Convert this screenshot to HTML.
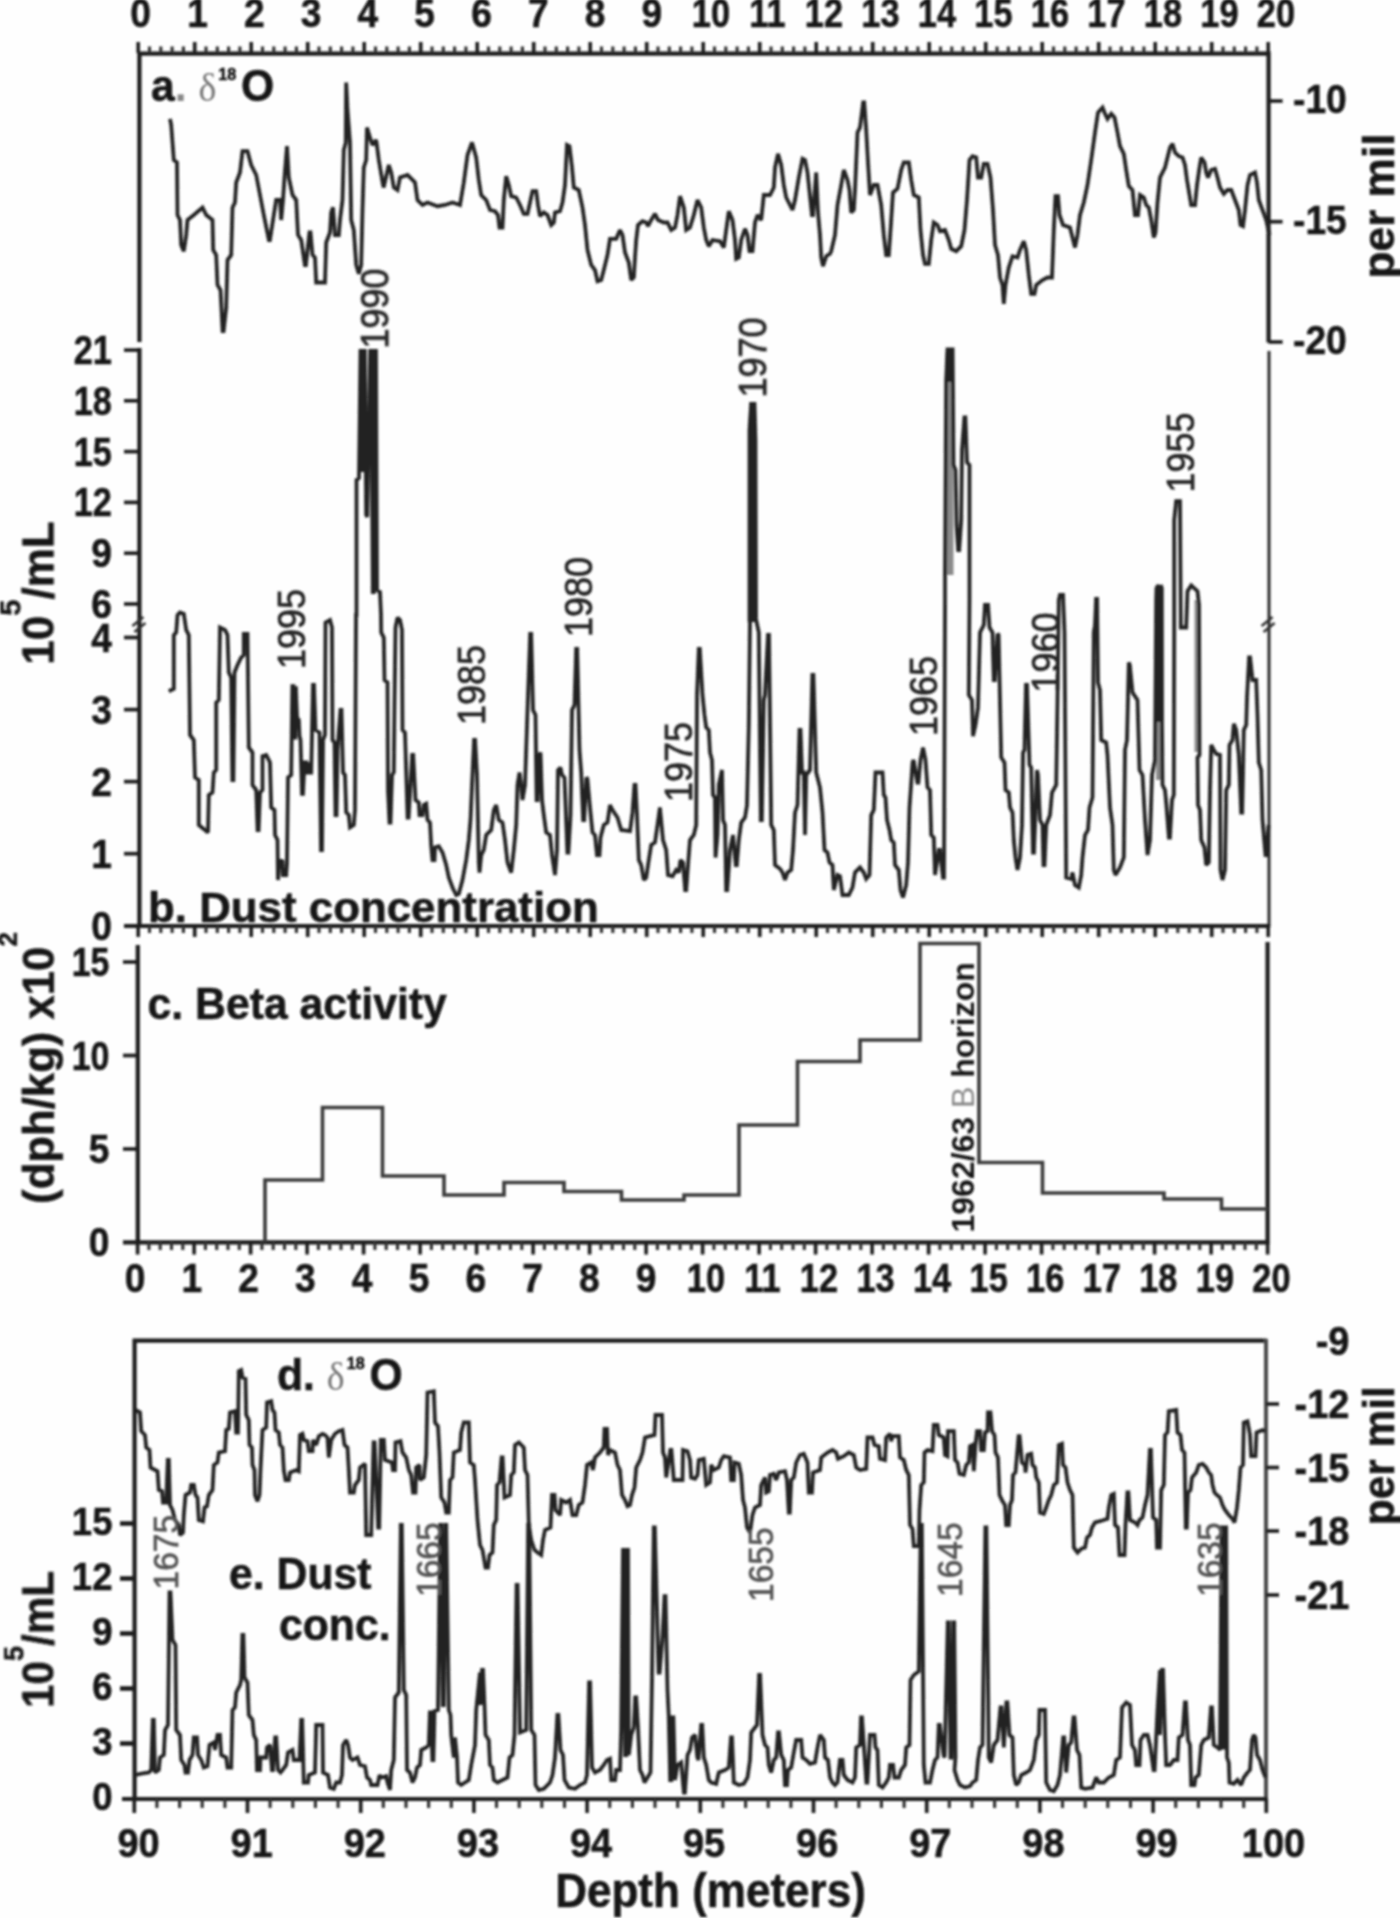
<!DOCTYPE html>
<html lang="en"><head><meta charset="utf-8"><title>Ice core records: δ18O, dust concentration, beta activity</title>
<style>
html,body{margin:0;padding:0;background:#fff;}
body{width:1400px;height:1918px;overflow:hidden;}
svg{display:block;}
text{font-family:"Liberation Sans",Arial,Helvetica,sans-serif;fill:#141414;}
.b{font-weight:bold;}
.tk{font-weight:bold;font-size:40px;stroke:#141414;stroke-width:0.5;}
.ax{stroke:#1a1a1a;stroke-width:4.2;fill:none;stroke-linecap:butt;}
.ax2{stroke:#2a2a2a;stroke-width:3;fill:none;}
.axg{stroke:#4a4a4a;stroke-width:4;fill:none;}
.t{stroke:#1c1c1c;stroke-width:3.6;fill:none;}
.tm{stroke:#333;stroke-width:3.2;fill:none;}
.c{stroke:#222;stroke-width:3.8;fill:none;stroke-linejoin:miter;stroke-miterlimit:2;stroke-linecap:butt;}
.cs{stroke:#3a3a3a;stroke-width:3.6;fill:none;stroke-linejoin:miter;}
.yr{font-size:36px;fill:#262626;stroke:#262626;stroke-width:0.7;}
.yg{font-size:33.5px;fill:#555;stroke:#555;stroke-width:0.7;}
.ttl{font-weight:bold;font-size:41px;stroke:#141414;stroke-width:0.5;}
.lab{font-weight:bold;font-size:39px;stroke:#141414;stroke-width:0.5;}
.gr{font-family:"Liberation Serif","DejaVu Serif",serif;font-weight:normal;fill:#777;stroke:none;}
.g2{fill:#888;stroke:none;}
</style></head><body>
<svg width="1400" height="1918" viewBox="0 0 1400 1918">
<defs><filter id="bl" x="-2%" y="-2%" width="104%" height="104%"><feGaussianBlur stdDeviation="1.1"/></filter></defs>
<rect width="1400" height="1918" fill="#fefefe"/>
<g filter="url(#bl)">
<path class="ax" d="M139.4,342 V53.6 H1268.6 V342.5"/>
<line class="t" x1="138.2" y1="53.0" x2="138.2" y2="42.0"/>
<line class="tm" x1="149.5" y1="53.0" x2="149.5" y2="46.5"/>
<line class="tm" x1="160.8" y1="53.0" x2="160.8" y2="46.5"/>
<line class="tm" x1="172.1" y1="53.0" x2="172.1" y2="46.5"/>
<line class="tm" x1="183.4" y1="53.0" x2="183.4" y2="46.5"/>
<line class="t" x1="194.7" y1="53.0" x2="194.7" y2="42.0"/>
<line class="tm" x1="206.0" y1="53.0" x2="206.0" y2="46.5"/>
<line class="tm" x1="217.3" y1="53.0" x2="217.3" y2="46.5"/>
<line class="tm" x1="228.6" y1="53.0" x2="228.6" y2="46.5"/>
<line class="tm" x1="239.9" y1="53.0" x2="239.9" y2="46.5"/>
<line class="t" x1="251.2" y1="53.0" x2="251.2" y2="42.0"/>
<line class="tm" x1="262.5" y1="53.0" x2="262.5" y2="46.5"/>
<line class="tm" x1="273.8" y1="53.0" x2="273.8" y2="46.5"/>
<line class="tm" x1="285.1" y1="53.0" x2="285.1" y2="46.5"/>
<line class="tm" x1="296.4" y1="53.0" x2="296.4" y2="46.5"/>
<line class="t" x1="307.7" y1="53.0" x2="307.7" y2="42.0"/>
<line class="tm" x1="319.0" y1="53.0" x2="319.0" y2="46.5"/>
<line class="tm" x1="330.3" y1="53.0" x2="330.3" y2="46.5"/>
<line class="tm" x1="341.6" y1="53.0" x2="341.6" y2="46.5"/>
<line class="tm" x1="352.9" y1="53.0" x2="352.9" y2="46.5"/>
<line class="t" x1="364.2" y1="53.0" x2="364.2" y2="42.0"/>
<line class="tm" x1="375.5" y1="53.0" x2="375.5" y2="46.5"/>
<line class="tm" x1="386.8" y1="53.0" x2="386.8" y2="46.5"/>
<line class="tm" x1="398.1" y1="53.0" x2="398.1" y2="46.5"/>
<line class="tm" x1="409.4" y1="53.0" x2="409.4" y2="46.5"/>
<line class="t" x1="420.7" y1="53.0" x2="420.7" y2="42.0"/>
<line class="tm" x1="432.0" y1="53.0" x2="432.0" y2="46.5"/>
<line class="tm" x1="443.3" y1="53.0" x2="443.3" y2="46.5"/>
<line class="tm" x1="454.6" y1="53.0" x2="454.6" y2="46.5"/>
<line class="tm" x1="465.9" y1="53.0" x2="465.9" y2="46.5"/>
<line class="t" x1="477.2" y1="53.0" x2="477.2" y2="42.0"/>
<line class="tm" x1="488.5" y1="53.0" x2="488.5" y2="46.5"/>
<line class="tm" x1="499.8" y1="53.0" x2="499.8" y2="46.5"/>
<line class="tm" x1="511.1" y1="53.0" x2="511.1" y2="46.5"/>
<line class="tm" x1="522.4" y1="53.0" x2="522.4" y2="46.5"/>
<line class="t" x1="533.7" y1="53.0" x2="533.7" y2="42.0"/>
<line class="tm" x1="545.0" y1="53.0" x2="545.0" y2="46.5"/>
<line class="tm" x1="556.3" y1="53.0" x2="556.3" y2="46.5"/>
<line class="tm" x1="567.6" y1="53.0" x2="567.6" y2="46.5"/>
<line class="tm" x1="578.9" y1="53.0" x2="578.9" y2="46.5"/>
<line class="t" x1="590.2" y1="53.0" x2="590.2" y2="42.0"/>
<line class="tm" x1="601.5" y1="53.0" x2="601.5" y2="46.5"/>
<line class="tm" x1="612.8" y1="53.0" x2="612.8" y2="46.5"/>
<line class="tm" x1="624.1" y1="53.0" x2="624.1" y2="46.5"/>
<line class="tm" x1="635.4" y1="53.0" x2="635.4" y2="46.5"/>
<line class="t" x1="646.7" y1="53.0" x2="646.7" y2="42.0"/>
<line class="tm" x1="658.0" y1="53.0" x2="658.0" y2="46.5"/>
<line class="tm" x1="669.3" y1="53.0" x2="669.3" y2="46.5"/>
<line class="tm" x1="680.6" y1="53.0" x2="680.6" y2="46.5"/>
<line class="tm" x1="691.9" y1="53.0" x2="691.9" y2="46.5"/>
<line class="t" x1="703.2" y1="53.0" x2="703.2" y2="42.0"/>
<line class="tm" x1="714.5" y1="53.0" x2="714.5" y2="46.5"/>
<line class="tm" x1="725.8" y1="53.0" x2="725.8" y2="46.5"/>
<line class="tm" x1="737.1" y1="53.0" x2="737.1" y2="46.5"/>
<line class="tm" x1="748.4" y1="53.0" x2="748.4" y2="46.5"/>
<line class="t" x1="759.7" y1="53.0" x2="759.7" y2="42.0"/>
<line class="tm" x1="771.0" y1="53.0" x2="771.0" y2="46.5"/>
<line class="tm" x1="782.3" y1="53.0" x2="782.3" y2="46.5"/>
<line class="tm" x1="793.6" y1="53.0" x2="793.6" y2="46.5"/>
<line class="tm" x1="804.9" y1="53.0" x2="804.9" y2="46.5"/>
<line class="t" x1="816.2" y1="53.0" x2="816.2" y2="42.0"/>
<line class="tm" x1="827.5" y1="53.0" x2="827.5" y2="46.5"/>
<line class="tm" x1="838.8" y1="53.0" x2="838.8" y2="46.5"/>
<line class="tm" x1="850.1" y1="53.0" x2="850.1" y2="46.5"/>
<line class="tm" x1="861.4" y1="53.0" x2="861.4" y2="46.5"/>
<line class="t" x1="872.7" y1="53.0" x2="872.7" y2="42.0"/>
<line class="tm" x1="884.0" y1="53.0" x2="884.0" y2="46.5"/>
<line class="tm" x1="895.3" y1="53.0" x2="895.3" y2="46.5"/>
<line class="tm" x1="906.6" y1="53.0" x2="906.6" y2="46.5"/>
<line class="tm" x1="917.9" y1="53.0" x2="917.9" y2="46.5"/>
<line class="t" x1="929.2" y1="53.0" x2="929.2" y2="42.0"/>
<line class="tm" x1="940.5" y1="53.0" x2="940.5" y2="46.5"/>
<line class="tm" x1="951.8" y1="53.0" x2="951.8" y2="46.5"/>
<line class="tm" x1="963.1" y1="53.0" x2="963.1" y2="46.5"/>
<line class="tm" x1="974.4" y1="53.0" x2="974.4" y2="46.5"/>
<line class="t" x1="985.7" y1="53.0" x2="985.7" y2="42.0"/>
<line class="tm" x1="997.0" y1="53.0" x2="997.0" y2="46.5"/>
<line class="tm" x1="1008.3" y1="53.0" x2="1008.3" y2="46.5"/>
<line class="tm" x1="1019.6" y1="53.0" x2="1019.6" y2="46.5"/>
<line class="tm" x1="1030.9" y1="53.0" x2="1030.9" y2="46.5"/>
<line class="t" x1="1042.2" y1="53.0" x2="1042.2" y2="42.0"/>
<line class="tm" x1="1053.5" y1="53.0" x2="1053.5" y2="46.5"/>
<line class="tm" x1="1064.8" y1="53.0" x2="1064.8" y2="46.5"/>
<line class="tm" x1="1076.1" y1="53.0" x2="1076.1" y2="46.5"/>
<line class="tm" x1="1087.4" y1="53.0" x2="1087.4" y2="46.5"/>
<line class="t" x1="1098.7" y1="53.0" x2="1098.7" y2="42.0"/>
<line class="tm" x1="1110.0" y1="53.0" x2="1110.0" y2="46.5"/>
<line class="tm" x1="1121.3" y1="53.0" x2="1121.3" y2="46.5"/>
<line class="tm" x1="1132.6" y1="53.0" x2="1132.6" y2="46.5"/>
<line class="tm" x1="1143.9" y1="53.0" x2="1143.9" y2="46.5"/>
<line class="t" x1="1155.2" y1="53.0" x2="1155.2" y2="42.0"/>
<line class="tm" x1="1166.5" y1="53.0" x2="1166.5" y2="46.5"/>
<line class="tm" x1="1177.8" y1="53.0" x2="1177.8" y2="46.5"/>
<line class="tm" x1="1189.1" y1="53.0" x2="1189.1" y2="46.5"/>
<line class="tm" x1="1200.4" y1="53.0" x2="1200.4" y2="46.5"/>
<line class="t" x1="1211.7" y1="53.0" x2="1211.7" y2="42.0"/>
<line class="tm" x1="1223.0" y1="53.0" x2="1223.0" y2="46.5"/>
<line class="tm" x1="1234.3" y1="53.0" x2="1234.3" y2="46.5"/>
<line class="tm" x1="1245.6" y1="53.0" x2="1245.6" y2="46.5"/>
<line class="tm" x1="1256.9" y1="53.0" x2="1256.9" y2="46.5"/>
<line class="t" x1="1268.2" y1="53.0" x2="1268.2" y2="42.0"/>
<text class="tk" transform="translate(140.7,27.0) scale(0.930,1)" text-anchor="middle">0</text>
<text class="tk" transform="translate(197.5,27.0) scale(0.930,1)" text-anchor="middle">1</text>
<text class="tk" transform="translate(254.3,27.0) scale(0.930,1)" text-anchor="middle">2</text>
<text class="tk" transform="translate(311.1,27.0) scale(0.930,1)" text-anchor="middle">3</text>
<text class="tk" transform="translate(367.9,27.0) scale(0.930,1)" text-anchor="middle">4</text>
<text class="tk" transform="translate(424.7,27.0) scale(0.930,1)" text-anchor="middle">5</text>
<text class="tk" transform="translate(481.5,27.0) scale(0.930,1)" text-anchor="middle">6</text>
<text class="tk" transform="translate(538.3,27.0) scale(0.930,1)" text-anchor="middle">7</text>
<text class="tk" transform="translate(595.1,27.0) scale(0.930,1)" text-anchor="middle">8</text>
<text class="tk" transform="translate(651.9,27.0) scale(0.930,1)" text-anchor="middle">9</text>
<text class="tk" transform="translate(711.0,27.0) scale(0.860,1)" text-anchor="middle">10</text>
<text class="tk" transform="translate(767.5,27.0) scale(0.860,1)" text-anchor="middle">11</text>
<text class="tk" transform="translate(824.0,27.0) scale(0.860,1)" text-anchor="middle">12</text>
<text class="tk" transform="translate(880.5,27.0) scale(0.860,1)" text-anchor="middle">13</text>
<text class="tk" transform="translate(937.0,27.0) scale(0.860,1)" text-anchor="middle">14</text>
<text class="tk" transform="translate(993.5,27.0) scale(0.860,1)" text-anchor="middle">15</text>
<text class="tk" transform="translate(1050.0,27.0) scale(0.860,1)" text-anchor="middle">16</text>
<text class="tk" transform="translate(1106.5,27.0) scale(0.860,1)" text-anchor="middle">17</text>
<text class="tk" transform="translate(1163.0,27.0) scale(0.860,1)" text-anchor="middle">18</text>
<text class="tk" transform="translate(1219.5,27.0) scale(0.860,1)" text-anchor="middle">19</text>
<text class="tk" transform="translate(1276.0,27.0) scale(0.860,1)" text-anchor="middle">20</text>
<line class="t" x1="1268.6" y1="101.0" x2="1282.6" y2="101.0"/>
<text class="tk" transform="translate(1293.0,113.0) scale(0.930,1)" text-anchor="start">-10</text>
<line class="t" x1="1268.6" y1="221.7" x2="1282.6" y2="221.7"/>
<text class="tk" transform="translate(1293.0,233.7) scale(0.930,1)" text-anchor="start">-15</text>
<line class="t" x1="1268.6" y1="342.0" x2="1282.6" y2="342.0"/>
<text class="tk" transform="translate(1293.0,354.0) scale(0.930,1)" text-anchor="start">-20</text>
<text class="ttl" transform="translate(1393.5,206.0) scale(1.010,1) rotate(-90)" text-anchor="middle" style="font-size:44.2px">per mil</text>
<text class="lab" transform="translate(151.0,101.0) scale(0.950,1)" text-anchor="start" style="font-size:45px">a<tspan class="g2">.</tspan> <tspan class="gr" font-size="40">δ</tspan><tspan font-size="17" dy="-21" dx="2">18</tspan><tspan dy="21" dx="5">O</tspan></text>
<polyline class="c" points="170.0,118.8 171.2,125.0 173.8,160.0 177.0,162.5 177.5,215.0 180.0,220.0 181.2,245.0 183.8,251.2 186.2,235.0 187.5,220.0 193.8,215.0 202.5,207.5 206.2,215.0 212.5,220.0 213.2,250.0 216.2,255.0 217.5,285.0 220.5,290.0 222.6,331.2 223.6,331.2 226.2,307.5 227.5,260.0 231.2,255.0 232.5,207.5 235.0,202.5 236.2,182.5 240.0,172.5 242.5,151.2 247.5,151.2 251.2,165.0 256.2,175.0 260.0,195.0 263.8,215.0 268.9,240.0 269.9,240.0 273.8,215.0 276.2,200.0 280.0,200.0 281.2,220.0 283.0,200.0 284.5,177.5 287.0,146.2 288.8,177.5 292.5,195.0 296.2,200.0 298.0,235.0 301.2,240.0 304.9,265.0 305.9,265.0 309.5,232.5 310.5,232.5 312.5,255.0 315.0,257.5 316.2,282.5 325.0,282.5 326.2,242.5 330.0,232.5 331.2,212.5 333.0,207.5 335.0,235.0 338.8,235.0 340.0,220.0 342.5,200.0 343.8,150.0 345.8,142.5 346.2,82.5 347.5,110.0 350.0,142.5 351.2,220.0 353.8,230.0 356.2,265.0 358.8,273.8 361.2,265.0 362.5,210.0 363.8,167.5 366.2,160.0 367.0,127.5 370.0,137.5 372.5,145.0 376.2,140.0 378.8,160.0 382.6,182.5 383.6,187.5 388.8,165.0 391.2,172.5 393.8,187.5 397.5,190.0 400.0,177.5 407.5,175.0 415.0,182.5 417.5,200.0 422.5,205.0 427.5,202.5 437.5,206.2 445.0,205.0 452.5,202.5 460.0,205.0 463.8,182.5 467.5,155.0 472.0,142.5 476.2,157.5 478.8,180.0 481.2,195.0 486.2,200.0 490.0,210.0 495.0,211.2 498.0,215.0 499.5,227.5 502.5,227.5 503.8,200.0 506.2,176.2 508.8,185.0 511.2,196.2 516.2,197.5 520.0,205.0 523.8,213.8 527.5,213.8 530.0,202.5 532.5,191.2 536.2,191.2 538.0,205.0 540.0,216.2 543.8,212.5 547.5,215.0 551.2,225.0 553.8,222.5 555.0,212.5 560.0,211.2 562.5,202.5 565.0,185.0 567.0,145.0 569.5,146.2 572.0,167.5 573.8,187.5 578.8,190.0 582.5,207.5 585.0,225.0 587.5,250.0 591.2,265.0 595.0,270.0 597.5,281.2 601.2,280.0 603.8,270.0 607.5,255.0 610.0,238.8 616.2,238.8 620.0,230.0 622.5,235.0 625.0,252.5 628.8,262.5 631.2,280.0 633.8,277.5 635.0,257.5 636.2,240.0 638.0,225.0 642.5,221.2 646.2,222.5 648.0,226.2 651.2,220.0 655.0,213.8 658.0,220.0 663.8,222.5 667.5,222.5 671.2,230.0 675.0,227.5 677.5,215.0 680.0,196.2 683.8,207.5 686.2,230.0 690.0,227.5 693.8,215.0 697.5,200.0 701.2,207.5 703.8,227.5 706.2,240.0 708.8,246.2 712.5,240.0 720.0,241.2 723.8,247.5 726.2,230.0 728.8,211.2 732.5,220.0 735.0,240.0 736.2,258.8 738.8,257.5 741.2,240.0 745.0,228.8 747.5,235.0 749.5,251.2 752.5,251.2 755.0,222.5 757.5,215.0 761.2,220.0 763.8,195.0 770.0,195.0 773.8,187.5 775.0,167.5 778.0,153.8 781.2,165.0 783.8,185.0 786.2,197.5 790.0,205.0 792.5,210.0 795.0,200.0 798.8,177.5 802.5,158.8 805.0,160.0 807.5,172.5 812.0,215.0 813.0,215.0 816.2,172.5 818.0,212.5 820.0,235.0 821.2,257.5 823.0,266.2 826.2,256.2 830.0,253.8 831.2,251.2 835.0,235.0 837.5,205.0 841.2,185.0 843.8,170.0 847.5,180.0 849.5,190.0 851.2,212.5 853.8,210.0 855.0,190.0 857.5,132.5 860.0,127.5 863.2,102.5 864.2,102.5 866.2,130.0 868.0,162.5 870.0,195.0 873.8,185.0 877.5,185.0 881.2,205.0 883.8,235.0 886.2,255.0 888.8,255.0 891.2,220.0 893.0,192.5 897.5,188.8 901.2,170.0 903.8,162.5 908.8,162.5 911.2,180.0 913.8,195.0 918.8,197.5 920.5,230.0 923.0,255.0 925.0,263.8 928.8,263.8 931.2,240.0 933.8,222.5 937.5,225.0 940.0,231.2 945.0,230.0 948.8,240.0 951.2,248.8 956.2,251.2 961.2,246.2 964.5,230.0 967.0,200.0 969.5,160.0 972.5,156.2 976.2,157.5 978.0,177.5 981.2,177.5 983.8,163.8 987.5,163.8 990.5,177.5 993.0,210.0 995.0,245.0 998.0,255.0 1000.0,277.5 1002.5,285.0 1003.8,303.8 1005.5,285.0 1008.8,267.5 1012.5,256.2 1017.5,257.5 1020.0,250.0 1023.8,241.2 1026.2,250.0 1028.8,275.0 1031.2,293.8 1034.5,293.8 1036.2,285.0 1042.5,280.0 1047.5,277.5 1052.0,277.5 1053.8,230.0 1055.5,196.2 1058.0,196.2 1059.5,215.0 1063.0,225.0 1070.0,227.5 1072.5,237.5 1075.0,247.5 1077.5,235.0 1080.0,215.0 1083.8,202.5 1087.5,185.0 1091.2,160.0 1095.0,132.5 1098.0,112.5 1102.5,107.5 1105.0,113.8 1107.5,118.8 1111.2,113.8 1114.5,117.5 1117.5,132.5 1120.0,146.2 1123.8,153.8 1126.2,170.0 1128.8,186.2 1132.5,190.0 1135.0,215.0 1138.0,215.0 1140.0,195.0 1143.8,197.5 1146.2,205.0 1148.8,207.5 1151.2,220.0 1153.8,237.5 1155.5,232.5 1157.5,202.5 1160.0,177.5 1165.0,167.5 1170.0,147.5 1172.5,143.8 1175.0,152.5 1178.8,156.2 1182.5,157.5 1185.0,165.0 1187.0,180.0 1189.5,195.0 1191.2,205.0 1195.0,205.0 1197.0,185.0 1199.5,167.5 1201.2,157.5 1204.5,162.5 1206.2,172.5 1208.0,177.5 1211.2,170.0 1215.0,168.8 1217.5,177.5 1220.0,187.5 1223.8,193.8 1227.5,190.0 1231.2,190.0 1235.0,200.0 1238.8,210.0 1240.5,225.0 1243.0,226.2 1245.0,210.0 1247.5,185.0 1250.0,175.0 1255.0,172.5 1257.0,182.5 1258.8,200.0 1262.5,210.0 1266.2,220.0 1269.5,235.0"/>
<line class="ax" x1="139.4" y1="348.0" x2="139.4" y2="927.5"/>
<line class="ax2" x1="1269.0" y1="351.0" x2="1269.0" y2="927.0"/>
<line class="ax" x1="124.0" y1="926.0" x2="1270.1" y2="926.0"/>
<text class="tk" transform="translate(112.0,939.7) scale(0.930,1)" text-anchor="end">0</text>
<line class="t" x1="124.0" y1="853.7" x2="139.4" y2="853.7"/>
<text class="tk" transform="translate(112.0,867.7) scale(0.930,1)" text-anchor="end">1</text>
<line class="t" x1="124.0" y1="781.6" x2="139.4" y2="781.6"/>
<text class="tk" transform="translate(112.0,795.6) scale(0.930,1)" text-anchor="end">2</text>
<line class="t" x1="124.0" y1="709.6" x2="139.4" y2="709.6"/>
<text class="tk" transform="translate(112.0,723.6) scale(0.930,1)" text-anchor="end">3</text>
<line class="t" x1="124.0" y1="637.5" x2="139.4" y2="637.5"/>
<text class="tk" transform="translate(112.0,651.5) scale(0.930,1)" text-anchor="end">4</text>
<line class="t" x1="124.0" y1="604.0" x2="139.4" y2="604.0"/>
<text class="tk" transform="translate(112.0,618.0) scale(0.930,1)" text-anchor="end">6</text>
<line class="t" x1="124.0" y1="553.2" x2="139.4" y2="553.2"/>
<text class="tk" transform="translate(112.0,567.2) scale(0.930,1)" text-anchor="end">9</text>
<line class="t" x1="124.0" y1="502.4" x2="139.4" y2="502.4"/>
<text class="tk" transform="translate(112.0,516.4) scale(0.860,1)" text-anchor="end">12</text>
<line class="t" x1="124.0" y1="451.6" x2="139.4" y2="451.6"/>
<text class="tk" transform="translate(112.0,465.6) scale(0.860,1)" text-anchor="end">15</text>
<line class="t" x1="124.0" y1="400.8" x2="139.4" y2="400.8"/>
<text class="tk" transform="translate(112.0,414.8) scale(0.860,1)" text-anchor="end">18</text>
<line class="t" x1="124.0" y1="350.1" x2="139.4" y2="350.1"/>
<text class="tk" transform="translate(112.0,364.1) scale(0.860,1)" text-anchor="end">21</text>
<path class="tm" d="M132.4,626 l11,-9 M134.4,632 l11,-9" style="stroke-width:2.6"/>
<path class="tm" d="M1261.6,626 l11,-9 M1263.6,632 l11,-9" style="stroke-width:2.6"/>
<line class="t" x1="138.2" y1="926.0" x2="138.2" y2="937.0"/>
<line class="tm" x1="149.5" y1="926.0" x2="149.5" y2="933.0"/>
<line class="tm" x1="160.8" y1="926.0" x2="160.8" y2="933.0"/>
<line class="tm" x1="172.1" y1="926.0" x2="172.1" y2="933.0"/>
<line class="tm" x1="183.4" y1="926.0" x2="183.4" y2="933.0"/>
<line class="t" x1="194.7" y1="926.0" x2="194.7" y2="937.0"/>
<line class="tm" x1="206.0" y1="926.0" x2="206.0" y2="933.0"/>
<line class="tm" x1="217.3" y1="926.0" x2="217.3" y2="933.0"/>
<line class="tm" x1="228.6" y1="926.0" x2="228.6" y2="933.0"/>
<line class="tm" x1="239.9" y1="926.0" x2="239.9" y2="933.0"/>
<line class="t" x1="251.2" y1="926.0" x2="251.2" y2="937.0"/>
<line class="tm" x1="262.5" y1="926.0" x2="262.5" y2="933.0"/>
<line class="tm" x1="273.8" y1="926.0" x2="273.8" y2="933.0"/>
<line class="tm" x1="285.1" y1="926.0" x2="285.1" y2="933.0"/>
<line class="tm" x1="296.4" y1="926.0" x2="296.4" y2="933.0"/>
<line class="t" x1="307.7" y1="926.0" x2="307.7" y2="937.0"/>
<line class="tm" x1="319.0" y1="926.0" x2="319.0" y2="933.0"/>
<line class="tm" x1="330.3" y1="926.0" x2="330.3" y2="933.0"/>
<line class="tm" x1="341.6" y1="926.0" x2="341.6" y2="933.0"/>
<line class="tm" x1="352.9" y1="926.0" x2="352.9" y2="933.0"/>
<line class="t" x1="364.2" y1="926.0" x2="364.2" y2="937.0"/>
<line class="tm" x1="375.5" y1="926.0" x2="375.5" y2="933.0"/>
<line class="tm" x1="386.8" y1="926.0" x2="386.8" y2="933.0"/>
<line class="tm" x1="398.1" y1="926.0" x2="398.1" y2="933.0"/>
<line class="tm" x1="409.4" y1="926.0" x2="409.4" y2="933.0"/>
<line class="t" x1="420.7" y1="926.0" x2="420.7" y2="937.0"/>
<line class="tm" x1="432.0" y1="926.0" x2="432.0" y2="933.0"/>
<line class="tm" x1="443.3" y1="926.0" x2="443.3" y2="933.0"/>
<line class="tm" x1="454.6" y1="926.0" x2="454.6" y2="933.0"/>
<line class="tm" x1="465.9" y1="926.0" x2="465.9" y2="933.0"/>
<line class="t" x1="477.2" y1="926.0" x2="477.2" y2="937.0"/>
<line class="tm" x1="488.5" y1="926.0" x2="488.5" y2="933.0"/>
<line class="tm" x1="499.8" y1="926.0" x2="499.8" y2="933.0"/>
<line class="tm" x1="511.1" y1="926.0" x2="511.1" y2="933.0"/>
<line class="tm" x1="522.4" y1="926.0" x2="522.4" y2="933.0"/>
<line class="t" x1="533.7" y1="926.0" x2="533.7" y2="937.0"/>
<line class="tm" x1="545.0" y1="926.0" x2="545.0" y2="933.0"/>
<line class="tm" x1="556.3" y1="926.0" x2="556.3" y2="933.0"/>
<line class="tm" x1="567.6" y1="926.0" x2="567.6" y2="933.0"/>
<line class="tm" x1="578.9" y1="926.0" x2="578.9" y2="933.0"/>
<line class="t" x1="590.2" y1="926.0" x2="590.2" y2="937.0"/>
<line class="tm" x1="601.5" y1="926.0" x2="601.5" y2="933.0"/>
<line class="tm" x1="612.8" y1="926.0" x2="612.8" y2="933.0"/>
<line class="tm" x1="624.1" y1="926.0" x2="624.1" y2="933.0"/>
<line class="tm" x1="635.4" y1="926.0" x2="635.4" y2="933.0"/>
<line class="t" x1="646.7" y1="926.0" x2="646.7" y2="937.0"/>
<line class="tm" x1="658.0" y1="926.0" x2="658.0" y2="933.0"/>
<line class="tm" x1="669.3" y1="926.0" x2="669.3" y2="933.0"/>
<line class="tm" x1="680.6" y1="926.0" x2="680.6" y2="933.0"/>
<line class="tm" x1="691.9" y1="926.0" x2="691.9" y2="933.0"/>
<line class="t" x1="703.2" y1="926.0" x2="703.2" y2="937.0"/>
<line class="tm" x1="714.5" y1="926.0" x2="714.5" y2="933.0"/>
<line class="tm" x1="725.8" y1="926.0" x2="725.8" y2="933.0"/>
<line class="tm" x1="737.1" y1="926.0" x2="737.1" y2="933.0"/>
<line class="tm" x1="748.4" y1="926.0" x2="748.4" y2="933.0"/>
<line class="t" x1="759.7" y1="926.0" x2="759.7" y2="937.0"/>
<line class="tm" x1="771.0" y1="926.0" x2="771.0" y2="933.0"/>
<line class="tm" x1="782.3" y1="926.0" x2="782.3" y2="933.0"/>
<line class="tm" x1="793.6" y1="926.0" x2="793.6" y2="933.0"/>
<line class="tm" x1="804.9" y1="926.0" x2="804.9" y2="933.0"/>
<line class="t" x1="816.2" y1="926.0" x2="816.2" y2="937.0"/>
<line class="tm" x1="827.5" y1="926.0" x2="827.5" y2="933.0"/>
<line class="tm" x1="838.8" y1="926.0" x2="838.8" y2="933.0"/>
<line class="tm" x1="850.1" y1="926.0" x2="850.1" y2="933.0"/>
<line class="tm" x1="861.4" y1="926.0" x2="861.4" y2="933.0"/>
<line class="t" x1="872.7" y1="926.0" x2="872.7" y2="937.0"/>
<line class="tm" x1="884.0" y1="926.0" x2="884.0" y2="933.0"/>
<line class="tm" x1="895.3" y1="926.0" x2="895.3" y2="933.0"/>
<line class="tm" x1="906.6" y1="926.0" x2="906.6" y2="933.0"/>
<line class="tm" x1="917.9" y1="926.0" x2="917.9" y2="933.0"/>
<line class="t" x1="929.2" y1="926.0" x2="929.2" y2="937.0"/>
<line class="tm" x1="940.5" y1="926.0" x2="940.5" y2="933.0"/>
<line class="tm" x1="951.8" y1="926.0" x2="951.8" y2="933.0"/>
<line class="tm" x1="963.1" y1="926.0" x2="963.1" y2="933.0"/>
<line class="tm" x1="974.4" y1="926.0" x2="974.4" y2="933.0"/>
<line class="t" x1="985.7" y1="926.0" x2="985.7" y2="937.0"/>
<line class="tm" x1="997.0" y1="926.0" x2="997.0" y2="933.0"/>
<line class="tm" x1="1008.3" y1="926.0" x2="1008.3" y2="933.0"/>
<line class="tm" x1="1019.6" y1="926.0" x2="1019.6" y2="933.0"/>
<line class="tm" x1="1030.9" y1="926.0" x2="1030.9" y2="933.0"/>
<line class="t" x1="1042.2" y1="926.0" x2="1042.2" y2="937.0"/>
<line class="tm" x1="1053.5" y1="926.0" x2="1053.5" y2="933.0"/>
<line class="tm" x1="1064.8" y1="926.0" x2="1064.8" y2="933.0"/>
<line class="tm" x1="1076.1" y1="926.0" x2="1076.1" y2="933.0"/>
<line class="tm" x1="1087.4" y1="926.0" x2="1087.4" y2="933.0"/>
<line class="t" x1="1098.7" y1="926.0" x2="1098.7" y2="937.0"/>
<line class="tm" x1="1110.0" y1="926.0" x2="1110.0" y2="933.0"/>
<line class="tm" x1="1121.3" y1="926.0" x2="1121.3" y2="933.0"/>
<line class="tm" x1="1132.6" y1="926.0" x2="1132.6" y2="933.0"/>
<line class="tm" x1="1143.9" y1="926.0" x2="1143.9" y2="933.0"/>
<line class="t" x1="1155.2" y1="926.0" x2="1155.2" y2="937.0"/>
<line class="tm" x1="1166.5" y1="926.0" x2="1166.5" y2="933.0"/>
<line class="tm" x1="1177.8" y1="926.0" x2="1177.8" y2="933.0"/>
<line class="tm" x1="1189.1" y1="926.0" x2="1189.1" y2="933.0"/>
<line class="tm" x1="1200.4" y1="926.0" x2="1200.4" y2="933.0"/>
<line class="t" x1="1211.7" y1="926.0" x2="1211.7" y2="937.0"/>
<line class="tm" x1="1223.0" y1="926.0" x2="1223.0" y2="933.0"/>
<line class="tm" x1="1234.3" y1="926.0" x2="1234.3" y2="933.0"/>
<line class="tm" x1="1245.6" y1="926.0" x2="1245.6" y2="933.0"/>
<line class="tm" x1="1256.9" y1="926.0" x2="1256.9" y2="933.0"/>
<line class="t" x1="1268.2" y1="926.0" x2="1268.2" y2="937.0"/>
<text class="ttl" transform="translate(53.5,593.0) scale(1.000,1) rotate(-90)" text-anchor="middle" style="font-size:44px">10<tspan font-size="29" dy="-33">5</tspan><tspan dy="33">/mL</tspan></text>
<text class="lab" transform="translate(148.0,921.5) scale(1.020,1)" text-anchor="start" style="font-size:43px">b. Dust concentration</text>
<rect x="945.5" y="352.0" width="8.0" height="223.0" fill="#8a8a8a"/>
<rect x="1156.0" y="590.0" width="7.0" height="190.0" fill="#8a8a8a"/>
<rect x="1194.5" y="600.0" width="5.5" height="152.0" fill="#8e8e8e"/>
<polyline class="c" points="168.8,691.2 173.8,688.8 173.8,635.0 176.2,632.5 177.5,615.0 180.0,612.5 183.8,613.8 186.2,630.0 188.8,635.0 190.0,735.0 193.8,740.0 195.0,777.5 198.8,780.0 198.8,825.0 205.0,830.0 208.0,832.5 208.8,795.0 212.5,792.5 213.8,772.5 216.2,770.0 216.2,702.5 218.8,700.0 220.0,627.5 225.0,630.0 227.5,635.0 228.8,672.5 231.2,677.5 232.4,780.0 233.4,780.0 234.5,672.5 237.5,665.0 241.2,657.5 243.8,655.0 243.8,633.8 247.5,633.8 248.8,747.5 252.5,752.5 252.5,785.0 256.2,790.0 257.6,830.0 258.6,830.0 260.0,792.5 262.5,790.0 262.5,756.2 266.2,755.0 270.0,762.5 271.2,807.5 274.5,810.0 275.0,835.0 277.5,840.0 278.0,880.0 279.5,860.0 282.5,861.2 283.0,875.0 286.2,875.0 287.0,862.5 288.0,777.5 291.2,775.0 292.4,686.2 293.4,686.2 294.2,737.5 295.2,737.5 295.8,686.2 297.0,717.5 298.8,720.0 299.5,736.2 300.5,740.0 302.0,793.8 303.0,793.8 304.5,762.5 306.2,762.5 306.5,772.5 308.0,772.5 308.8,762.5 309.5,772.5 311.2,772.5 313.0,685.0 314.0,685.0 315.5,730.0 319.5,732.5 321.0,850.0 322.0,850.0 323.0,740.0 325.0,735.0 325.5,622.5 330.0,620.0 332.0,627.5 332.5,740.0 334.5,742.5 335.5,815.0 336.5,815.0 337.5,750.0 340.5,710.0 341.5,710.0 343.0,772.5 345.0,775.0 346.2,812.5 348.8,815.0 350.0,827.5 353.8,825.0 355.0,810.0 356.0,615.0 356.5,615.0 356.5,480.0 359.0,478.0 360.5,351.0 361.5,351.0 362.2,470.0 363.2,470.0 363.8,351.0 364.8,351.0 366.2,515.0 367.2,517.0 370.2,351.0 371.2,351.0 372.8,592.0 373.8,592.0 375.0,351.0 376.0,351.0 377.0,590.0 380.0,592.0 381.0,615.0 381.2,632.5 383.8,637.5 384.5,680.0 387.5,682.5 388.0,790.0 389.5,822.5 390.5,822.5 392.0,775.0 393.8,772.5 394.5,705.0 395.5,627.5 397.5,617.5 400.0,620.0 402.0,630.0 402.5,730.0 405.0,732.5 407.6,817.5 408.6,817.5 412.2,755.0 413.2,755.0 415.5,800.0 418.8,802.5 419.5,815.0 422.5,815.0 423.8,805.0 426.2,803.8 427.5,820.0 430.0,822.5 431.2,846.2 432.5,860.0 434.5,860.0 435.0,847.5 438.8,846.2 442.5,852.5 446.2,865.0 448.8,877.5 452.5,887.5 456.2,895.0 458.8,893.8 462.5,880.0 466.2,860.0 468.8,840.0 470.5,820.0 472.0,785.0 474.1,740.0 475.1,740.0 477.0,775.0 478.8,862.5 479.5,872.5 481.2,855.0 483.8,850.0 486.2,835.0 491.2,830.0 493.8,810.0 496.2,805.0 498.8,820.0 502.5,822.5 505.0,840.0 507.5,862.5 511.2,872.5 513.8,850.0 516.2,825.0 517.5,785.0 519.5,772.5 521.2,785.0 522.5,800.0 525.0,785.0 527.5,710.0 530.2,633.8 531.2,633.8 533.0,710.0 535.5,715.0 536.6,800.0 537.6,800.0 539.5,755.0 540.5,752.5 542.0,800.0 543.8,815.0 546.2,832.5 550.0,835.0 552.0,855.0 555.0,875.0 557.0,850.0 558.0,770.0 560.5,767.5 562.0,775.0 564.5,777.5 567.4,852.5 568.4,852.5 570.5,815.0 572.0,710.0 574.5,705.0 576.2,648.8 577.2,648.8 579.5,750.0 581.2,772.5 583.2,820.0 584.2,820.0 586.4,777.5 587.4,778.8 590.0,807.5 592.5,832.5 595.0,835.0 597.0,855.0 599.5,855.0 600.5,837.5 603.8,825.0 607.5,822.5 610.0,805.0 612.5,810.0 617.5,817.5 621.2,830.0 630.0,831.2 632.5,812.5 634.5,785.0 635.5,785.0 637.0,815.0 638.8,860.0 641.2,865.0 643.8,880.0 646.2,877.5 648.8,860.0 651.2,845.0 655.0,842.5 658.9,815.0 659.9,807.5 663.0,840.0 666.2,850.0 668.0,875.0 672.5,876.2 676.2,870.0 678.8,872.5 680.5,860.0 683.0,862.5 685.2,890.0 686.2,890.0 688.0,865.0 690.0,840.0 693.8,835.0 696.2,825.0 697.0,695.0 698.8,648.8 699.8,648.8 702.5,695.0 704.5,715.0 706.2,727.5 708.8,730.0 710.0,752.5 712.0,760.0 713.0,795.0 715.0,797.5 715.5,857.5 717.5,835.0 718.8,785.0 722.0,770.0 723.0,820.0 725.0,825.0 726.2,890.0 727.2,890.0 730.0,850.0 733.0,835.0 735.8,865.0 736.8,865.0 738.8,840.0 741.2,822.5 745.0,817.5 747.0,805.0 748.8,725.0 750.0,620.0 749.5,620.0 749.5,430.0 751.1,404.0 752.1,404.0 752.4,620.0 753.4,620.0 753.5,404.0 754.5,404.0 755.5,440.0 756.0,620.0 756.2,620.0 758.8,632.5 759.5,700.0 760.8,820.0 761.8,820.0 763.8,700.0 765.0,695.0 768.0,635.0 769.0,635.0 771.2,825.0 773.8,830.0 775.0,865.0 780.0,868.8 782.5,872.5 785.0,880.0 787.5,872.5 791.2,870.0 793.0,850.0 795.0,812.5 797.5,805.0 799.5,730.0 800.5,730.0 802.0,772.5 803.8,772.5 805.0,835.0 806.2,775.0 810.0,770.0 812.4,675.0 813.4,675.0 816.2,772.5 820.0,787.5 822.5,812.5 824.5,850.0 827.5,852.5 829.5,862.5 832.5,865.0 833.8,890.0 837.5,875.0 840.0,876.2 842.5,895.0 848.8,895.0 852.5,887.5 855.0,872.5 860.0,867.5 863.8,872.5 866.2,878.8 869.5,875.0 871.2,815.0 873.8,810.0 875.5,772.5 882.5,772.5 883.8,795.0 885.5,797.5 887.0,820.0 889.5,830.0 891.2,840.0 893.8,842.5 895.0,865.0 898.8,870.0 900.5,890.0 903.0,897.5 906.2,885.0 908.0,862.5 909.5,807.5 912.6,762.5 913.6,760.0 917.4,782.5 918.4,782.5 920.5,760.0 923.0,747.5 925.5,760.0 927.5,787.5 930.0,790.0 931.2,835.0 933.8,837.5 935.0,875.0 938.9,850.0 939.9,850.0 943.0,877.5 944.0,877.5 945.0,600.0 945.0,580.0 946.2,380.0 947.5,349.5 948.5,349.5 949.6,380.0 950.6,380.0 951.6,349.5 952.6,349.5 953.5,465.0 955.5,470.0 956.5,525.0 958.2,550.0 959.2,550.0 961.2,520.0 962.0,450.0 964.4,417.5 965.4,417.5 967.0,462.5 969.5,465.0 969.5,600.0 968.8,695.0 972.0,700.0 973.0,736.2 975.5,725.0 978.0,707.5 980.0,632.5 983.8,625.0 985.0,605.0 988.0,605.0 989.5,627.5 992.5,632.5 993.8,680.0 994.8,680.0 997.6,633.8 998.6,635.0 1001.2,757.5 1004.5,762.5 1005.5,790.0 1008.8,792.5 1010.0,807.5 1012.5,812.5 1013.8,840.0 1015.5,857.5 1017.5,870.0 1020.0,857.5 1022.0,825.0 1023.0,752.5 1024.5,750.0 1026.0,685.0 1027.0,685.0 1029.5,765.0 1031.2,767.5 1033.0,852.5 1034.0,852.5 1037.0,770.0 1038.0,775.0 1040.0,820.0 1042.5,825.0 1043.5,865.0 1044.5,865.0 1046.2,825.0 1050.0,815.0 1052.0,792.5 1056.2,785.0 1057.5,700.0 1058.8,600.0 1060.0,595.0 1063.0,595.0 1064.5,632.5 1066.2,877.5 1071.2,878.8 1072.5,872.5 1075.0,885.0 1078.8,887.5 1081.2,875.0 1082.5,857.5 1085.0,835.0 1088.0,830.0 1089.5,807.5 1092.5,797.5 1093.8,632.5 1095.0,625.0 1096.1,598.8 1097.1,598.8 1098.0,682.5 1100.0,690.0 1101.2,740.0 1106.2,742.5 1107.5,755.0 1110.0,807.5 1112.5,825.0 1113.8,870.0 1115.5,875.0 1120.0,867.5 1123.8,857.5 1125.0,750.0 1127.0,740.0 1128.8,662.5 1129.8,665.0 1132.5,692.5 1137.5,700.0 1139.5,770.0 1142.5,775.0 1145.0,820.0 1147.5,855.0 1150.0,840.0 1152.0,775.0 1155.0,760.0 1156.2,600.0 1156.5,588.0 1158.5,585.0 1159.0,720.0 1160.0,720.0 1160.8,585.0 1161.8,588.0 1162.0,725.0 1162.5,785.0 1165.0,790.0 1166.2,802.5 1168.9,837.5 1169.9,837.5 1172.0,800.0 1173.8,795.0 1174.2,632.5 1174.2,520.0 1176.2,501.2 1180.0,501.2 1180.8,627.5 1186.2,627.5 1187.5,591.2 1191.2,585.5 1197.5,591.2 1199.0,605.0 1199.5,755.0 1197.5,757.5 1198.0,805.0 1200.0,810.0 1201.2,840.0 1204.5,847.5 1206.2,865.0 1208.8,862.5 1210.0,790.0 1211.2,745.0 1213.8,750.0 1216.2,753.8 1220.0,755.0 1220.5,870.0 1222.5,880.0 1225.0,870.0 1226.2,790.0 1228.8,785.0 1229.5,745.0 1232.5,740.0 1233.8,723.8 1236.2,730.0 1238.8,755.0 1241.2,812.5 1242.2,812.5 1243.8,730.0 1246.2,725.0 1247.0,697.5 1249.1,657.5 1250.1,657.5 1252.5,680.0 1256.2,680.0 1257.5,715.0 1258.8,762.5 1261.2,770.0 1262.5,820.0 1265.5,855.0 1266.5,855.0 1268.5,825.0"/>
<text class="yr" transform="translate(305.0,669.0) scale(1.100,1) rotate(-90)" text-anchor="start">1995</text>
<text class="yr" transform="translate(388.6,348.6) scale(1.100,1) rotate(-90)" text-anchor="start">1990</text>
<text class="yr" transform="translate(485.0,725.0) scale(1.100,1) rotate(-90)" text-anchor="start">1985</text>
<text class="yr" transform="translate(591.5,637.0) scale(1.100,1) rotate(-90)" text-anchor="start">1980</text>
<text class="yr" transform="translate(692.0,802.0) scale(1.100,1) rotate(-90)" text-anchor="start">1975</text>
<text class="yr" transform="translate(766.5,397.5) scale(1.100,1) rotate(-90)" text-anchor="start">1970</text>
<text class="yr" transform="translate(936.5,736.0) scale(1.100,1) rotate(-90)" text-anchor="start">1965</text>
<text class="yr" transform="translate(1059.0,692.5) scale(1.100,1) rotate(-90)" text-anchor="start">1960</text>
<text class="yr" transform="translate(1194.0,492.5) scale(1.100,1) rotate(-90)" text-anchor="start">1955</text>
<line class="ax" x1="137.8" y1="945.0" x2="137.8" y2="1244.0"/>
<line class="ax" x1="1267.6" y1="942.0" x2="1267.6" y2="1244.0"/>
<line class="ax" x1="123.0" y1="1242.3" x2="1269.0" y2="1242.3"/>
<line class="t" x1="123.0" y1="962.0" x2="137.8" y2="962.0"/>
<text class="tk" transform="translate(109.5,976.0) scale(0.850,1)" text-anchor="end">15</text>
<line class="t" x1="123.0" y1="1055.5" x2="137.8" y2="1055.5"/>
<text class="tk" transform="translate(109.5,1069.5) scale(0.850,1)" text-anchor="end">10</text>
<line class="t" x1="123.0" y1="1149.0" x2="137.8" y2="1149.0"/>
<text class="tk" transform="translate(109.5,1163.0) scale(0.930,1)" text-anchor="end">5</text>
<text class="tk" transform="translate(109.5,1256.3) scale(0.930,1)" text-anchor="end">0</text>
<line class="t" x1="137.6" y1="1242.0" x2="137.6" y2="1254.5"/>
<line class="tm" x1="148.9" y1="1242.0" x2="148.9" y2="1250.0"/>
<line class="tm" x1="160.2" y1="1242.0" x2="160.2" y2="1250.0"/>
<line class="tm" x1="171.5" y1="1242.0" x2="171.5" y2="1250.0"/>
<line class="tm" x1="182.8" y1="1242.0" x2="182.8" y2="1250.0"/>
<line class="t" x1="194.1" y1="1242.0" x2="194.1" y2="1254.5"/>
<line class="tm" x1="205.4" y1="1242.0" x2="205.4" y2="1250.0"/>
<line class="tm" x1="216.7" y1="1242.0" x2="216.7" y2="1250.0"/>
<line class="tm" x1="228.0" y1="1242.0" x2="228.0" y2="1250.0"/>
<line class="tm" x1="239.3" y1="1242.0" x2="239.3" y2="1250.0"/>
<line class="t" x1="250.6" y1="1242.0" x2="250.6" y2="1254.5"/>
<line class="tm" x1="261.9" y1="1242.0" x2="261.9" y2="1250.0"/>
<line class="tm" x1="273.2" y1="1242.0" x2="273.2" y2="1250.0"/>
<line class="tm" x1="284.5" y1="1242.0" x2="284.5" y2="1250.0"/>
<line class="tm" x1="295.8" y1="1242.0" x2="295.8" y2="1250.0"/>
<line class="t" x1="307.1" y1="1242.0" x2="307.1" y2="1254.5"/>
<line class="tm" x1="318.4" y1="1242.0" x2="318.4" y2="1250.0"/>
<line class="tm" x1="329.7" y1="1242.0" x2="329.7" y2="1250.0"/>
<line class="tm" x1="341.0" y1="1242.0" x2="341.0" y2="1250.0"/>
<line class="tm" x1="352.3" y1="1242.0" x2="352.3" y2="1250.0"/>
<line class="t" x1="363.6" y1="1242.0" x2="363.6" y2="1254.5"/>
<line class="tm" x1="374.9" y1="1242.0" x2="374.9" y2="1250.0"/>
<line class="tm" x1="386.2" y1="1242.0" x2="386.2" y2="1250.0"/>
<line class="tm" x1="397.5" y1="1242.0" x2="397.5" y2="1250.0"/>
<line class="tm" x1="408.8" y1="1242.0" x2="408.8" y2="1250.0"/>
<line class="t" x1="420.1" y1="1242.0" x2="420.1" y2="1254.5"/>
<line class="tm" x1="431.4" y1="1242.0" x2="431.4" y2="1250.0"/>
<line class="tm" x1="442.7" y1="1242.0" x2="442.7" y2="1250.0"/>
<line class="tm" x1="454.0" y1="1242.0" x2="454.0" y2="1250.0"/>
<line class="tm" x1="465.3" y1="1242.0" x2="465.3" y2="1250.0"/>
<line class="t" x1="476.6" y1="1242.0" x2="476.6" y2="1254.5"/>
<line class="tm" x1="487.9" y1="1242.0" x2="487.9" y2="1250.0"/>
<line class="tm" x1="499.2" y1="1242.0" x2="499.2" y2="1250.0"/>
<line class="tm" x1="510.5" y1="1242.0" x2="510.5" y2="1250.0"/>
<line class="tm" x1="521.8" y1="1242.0" x2="521.8" y2="1250.0"/>
<line class="t" x1="533.1" y1="1242.0" x2="533.1" y2="1254.5"/>
<line class="tm" x1="544.4" y1="1242.0" x2="544.4" y2="1250.0"/>
<line class="tm" x1="555.7" y1="1242.0" x2="555.7" y2="1250.0"/>
<line class="tm" x1="567.0" y1="1242.0" x2="567.0" y2="1250.0"/>
<line class="tm" x1="578.3" y1="1242.0" x2="578.3" y2="1250.0"/>
<line class="t" x1="589.6" y1="1242.0" x2="589.6" y2="1254.5"/>
<line class="tm" x1="600.9" y1="1242.0" x2="600.9" y2="1250.0"/>
<line class="tm" x1="612.2" y1="1242.0" x2="612.2" y2="1250.0"/>
<line class="tm" x1="623.5" y1="1242.0" x2="623.5" y2="1250.0"/>
<line class="tm" x1="634.8" y1="1242.0" x2="634.8" y2="1250.0"/>
<line class="t" x1="646.1" y1="1242.0" x2="646.1" y2="1254.5"/>
<line class="tm" x1="657.4" y1="1242.0" x2="657.4" y2="1250.0"/>
<line class="tm" x1="668.7" y1="1242.0" x2="668.7" y2="1250.0"/>
<line class="tm" x1="680.0" y1="1242.0" x2="680.0" y2="1250.0"/>
<line class="tm" x1="691.3" y1="1242.0" x2="691.3" y2="1250.0"/>
<line class="t" x1="702.6" y1="1242.0" x2="702.6" y2="1254.5"/>
<line class="tm" x1="713.9" y1="1242.0" x2="713.9" y2="1250.0"/>
<line class="tm" x1="725.2" y1="1242.0" x2="725.2" y2="1250.0"/>
<line class="tm" x1="736.5" y1="1242.0" x2="736.5" y2="1250.0"/>
<line class="tm" x1="747.8" y1="1242.0" x2="747.8" y2="1250.0"/>
<line class="t" x1="759.1" y1="1242.0" x2="759.1" y2="1254.5"/>
<line class="tm" x1="770.4" y1="1242.0" x2="770.4" y2="1250.0"/>
<line class="tm" x1="781.7" y1="1242.0" x2="781.7" y2="1250.0"/>
<line class="tm" x1="793.0" y1="1242.0" x2="793.0" y2="1250.0"/>
<line class="tm" x1="804.3" y1="1242.0" x2="804.3" y2="1250.0"/>
<line class="t" x1="815.6" y1="1242.0" x2="815.6" y2="1254.5"/>
<line class="tm" x1="826.9" y1="1242.0" x2="826.9" y2="1250.0"/>
<line class="tm" x1="838.2" y1="1242.0" x2="838.2" y2="1250.0"/>
<line class="tm" x1="849.5" y1="1242.0" x2="849.5" y2="1250.0"/>
<line class="tm" x1="860.8" y1="1242.0" x2="860.8" y2="1250.0"/>
<line class="t" x1="872.1" y1="1242.0" x2="872.1" y2="1254.5"/>
<line class="tm" x1="883.4" y1="1242.0" x2="883.4" y2="1250.0"/>
<line class="tm" x1="894.7" y1="1242.0" x2="894.7" y2="1250.0"/>
<line class="tm" x1="906.0" y1="1242.0" x2="906.0" y2="1250.0"/>
<line class="tm" x1="917.3" y1="1242.0" x2="917.3" y2="1250.0"/>
<line class="t" x1="928.6" y1="1242.0" x2="928.6" y2="1254.5"/>
<line class="tm" x1="939.9" y1="1242.0" x2="939.9" y2="1250.0"/>
<line class="tm" x1="951.2" y1="1242.0" x2="951.2" y2="1250.0"/>
<line class="tm" x1="962.5" y1="1242.0" x2="962.5" y2="1250.0"/>
<line class="tm" x1="973.8" y1="1242.0" x2="973.8" y2="1250.0"/>
<line class="t" x1="985.1" y1="1242.0" x2="985.1" y2="1254.5"/>
<line class="tm" x1="996.4" y1="1242.0" x2="996.4" y2="1250.0"/>
<line class="tm" x1="1007.7" y1="1242.0" x2="1007.7" y2="1250.0"/>
<line class="tm" x1="1019.0" y1="1242.0" x2="1019.0" y2="1250.0"/>
<line class="tm" x1="1030.3" y1="1242.0" x2="1030.3" y2="1250.0"/>
<line class="t" x1="1041.6" y1="1242.0" x2="1041.6" y2="1254.5"/>
<line class="tm" x1="1052.9" y1="1242.0" x2="1052.9" y2="1250.0"/>
<line class="tm" x1="1064.2" y1="1242.0" x2="1064.2" y2="1250.0"/>
<line class="tm" x1="1075.5" y1="1242.0" x2="1075.5" y2="1250.0"/>
<line class="tm" x1="1086.8" y1="1242.0" x2="1086.8" y2="1250.0"/>
<line class="t" x1="1098.1" y1="1242.0" x2="1098.1" y2="1254.5"/>
<line class="tm" x1="1109.4" y1="1242.0" x2="1109.4" y2="1250.0"/>
<line class="tm" x1="1120.7" y1="1242.0" x2="1120.7" y2="1250.0"/>
<line class="tm" x1="1132.0" y1="1242.0" x2="1132.0" y2="1250.0"/>
<line class="tm" x1="1143.3" y1="1242.0" x2="1143.3" y2="1250.0"/>
<line class="t" x1="1154.6" y1="1242.0" x2="1154.6" y2="1254.5"/>
<line class="tm" x1="1165.9" y1="1242.0" x2="1165.9" y2="1250.0"/>
<line class="tm" x1="1177.2" y1="1242.0" x2="1177.2" y2="1250.0"/>
<line class="tm" x1="1188.5" y1="1242.0" x2="1188.5" y2="1250.0"/>
<line class="tm" x1="1199.8" y1="1242.0" x2="1199.8" y2="1250.0"/>
<line class="t" x1="1211.1" y1="1242.0" x2="1211.1" y2="1254.5"/>
<line class="tm" x1="1222.4" y1="1242.0" x2="1222.4" y2="1250.0"/>
<line class="tm" x1="1233.7" y1="1242.0" x2="1233.7" y2="1250.0"/>
<line class="tm" x1="1245.0" y1="1242.0" x2="1245.0" y2="1250.0"/>
<line class="tm" x1="1256.3" y1="1242.0" x2="1256.3" y2="1250.0"/>
<line class="t" x1="1267.6" y1="1242.0" x2="1267.6" y2="1254.5"/>
<text class="tk" transform="translate(135.0,1291.5) scale(0.930,1)" text-anchor="middle">0</text>
<text class="tk" transform="translate(191.8,1291.5) scale(0.930,1)" text-anchor="middle">1</text>
<text class="tk" transform="translate(248.6,1291.5) scale(0.930,1)" text-anchor="middle">2</text>
<text class="tk" transform="translate(305.4,1291.5) scale(0.930,1)" text-anchor="middle">3</text>
<text class="tk" transform="translate(362.2,1291.5) scale(0.930,1)" text-anchor="middle">4</text>
<text class="tk" transform="translate(419.0,1291.5) scale(0.930,1)" text-anchor="middle">5</text>
<text class="tk" transform="translate(475.8,1291.5) scale(0.930,1)" text-anchor="middle">6</text>
<text class="tk" transform="translate(532.6,1291.5) scale(0.930,1)" text-anchor="middle">7</text>
<text class="tk" transform="translate(589.4,1291.5) scale(0.930,1)" text-anchor="middle">8</text>
<text class="tk" transform="translate(646.2,1291.5) scale(0.930,1)" text-anchor="middle">9</text>
<text class="tk" transform="translate(706.0,1291.5) scale(0.860,1)" text-anchor="middle">10</text>
<text class="tk" transform="translate(762.5,1291.5) scale(0.860,1)" text-anchor="middle">11</text>
<text class="tk" transform="translate(819.0,1291.5) scale(0.860,1)" text-anchor="middle">12</text>
<text class="tk" transform="translate(875.6,1291.5) scale(0.860,1)" text-anchor="middle">13</text>
<text class="tk" transform="translate(932.1,1291.5) scale(0.860,1)" text-anchor="middle">14</text>
<text class="tk" transform="translate(988.7,1291.5) scale(0.860,1)" text-anchor="middle">15</text>
<text class="tk" transform="translate(1045.2,1291.5) scale(0.860,1)" text-anchor="middle">16</text>
<text class="tk" transform="translate(1101.8,1291.5) scale(0.860,1)" text-anchor="middle">17</text>
<text class="tk" transform="translate(1158.3,1291.5) scale(0.860,1)" text-anchor="middle">18</text>
<text class="tk" transform="translate(1214.9,1291.5) scale(0.860,1)" text-anchor="middle">19</text>
<text class="tk" transform="translate(1271.5,1291.5) scale(0.860,1)" text-anchor="middle">20</text>
<polyline class="cs" points="265.0,1242.0 265.0,1180.0 322.5,1180.0 322.5,1107.5 382.5,1107.5 382.5,1176.0 444.0,1176.0 444.0,1195.0 504.0,1195.0 504.0,1182.5 564.0,1182.5 564.0,1191.5 621.5,1191.5 621.5,1200.0 684.0,1200.0 684.0,1195.0 739.0,1195.0 739.0,1125.0 797.5,1125.0 797.5,1061.5 860.0,1061.5 860.0,1040.0 920.0,1040.0 920.0,943.5 979.0,943.5 979.0,1162.5 1042.5,1162.5 1042.5,1193.0 1164.0,1193.0 1164.0,1199.0 1221.5,1199.0 1221.5,1209.0 1267.5,1209.0"/>
<text class="lab" transform="translate(147.5,1018.5) scale(0.950,1)" text-anchor="start" style="font-size:45px">c. Beta activity</text>
<text class="ttl" transform="translate(53.7,1068.0) scale(1.015,1) rotate(-90)" text-anchor="middle" style="font-size:43.7px">(dph/kg) x10<tspan font-size="26" dy="-36">2</tspan></text>
<text class="b" transform="translate(974.0,1232.5) scale(1.000,1) rotate(-90)" text-anchor="start" style="font-size:32px">1962/63 <tspan font-weight="normal" class="g2">B</tspan> horizon</text>
<path class="ax" d="M134.6,1800.5 V1340.6 H1267"/>
<line class="axg" x1="1266.0" y1="1339.0" x2="1266.0" y2="1800.5"/>
<line class="ax" x1="122.0" y1="1799.0" x2="1267.5" y2="1799.0"/>
<text class="tk" transform="translate(112.5,1810.0) scale(0.950,1)" text-anchor="end" style="font-size:38.5px">0</text>
<line class="t" x1="120.0" y1="1743.5" x2="134.6" y2="1743.5" style="stroke-width:4.6"/>
<text class="tk" transform="translate(112.5,1755.0) scale(0.950,1)" text-anchor="end" style="font-size:38.5px">3</text>
<line class="t" x1="120.0" y1="1688.5" x2="134.6" y2="1688.5" style="stroke-width:4.6"/>
<text class="tk" transform="translate(112.5,1700.0) scale(0.950,1)" text-anchor="end" style="font-size:38.5px">6</text>
<line class="t" x1="120.0" y1="1633.5" x2="134.6" y2="1633.5" style="stroke-width:4.6"/>
<text class="tk" transform="translate(112.5,1645.0) scale(0.950,1)" text-anchor="end" style="font-size:38.5px">9</text>
<line class="t" x1="120.0" y1="1578.5" x2="134.6" y2="1578.5" style="stroke-width:4.6"/>
<text class="tk" transform="translate(112.5,1590.0) scale(0.950,1)" text-anchor="end" style="font-size:38.5px">12</text>
<line class="t" x1="120.0" y1="1523.5" x2="134.6" y2="1523.5" style="stroke-width:4.6"/>
<text class="tk" transform="translate(112.5,1535.0) scale(0.950,1)" text-anchor="end" style="font-size:38.5px">15</text>
<text class="tk" transform="translate(1349.5,1354.5) scale(0.950,1)" text-anchor="end">-9</text>
<line class="t" x1="1266.0" y1="1404.0" x2="1279.0" y2="1404.0"/>
<text class="tk" transform="translate(1349.5,1418.0) scale(0.950,1)" text-anchor="end">-12</text>
<line class="t" x1="1266.0" y1="1467.5" x2="1279.0" y2="1467.5"/>
<text class="tk" transform="translate(1349.5,1481.5) scale(0.950,1)" text-anchor="end">-15</text>
<line class="t" x1="1266.0" y1="1531.0" x2="1279.0" y2="1531.0"/>
<text class="tk" transform="translate(1349.5,1545.0) scale(0.950,1)" text-anchor="end">-18</text>
<line class="t" x1="1266.0" y1="1595.0" x2="1279.0" y2="1595.0"/>
<text class="tk" transform="translate(1349.5,1609.0) scale(0.950,1)" text-anchor="end">-21</text>
<line class="t" x1="134.3" y1="1799.0" x2="134.3" y2="1813.0"/>
<line class="tm" x1="156.9" y1="1799.0" x2="156.9" y2="1808.0"/>
<line class="tm" x1="179.6" y1="1799.0" x2="179.6" y2="1808.0"/>
<line class="tm" x1="202.2" y1="1799.0" x2="202.2" y2="1808.0"/>
<line class="tm" x1="224.9" y1="1799.0" x2="224.9" y2="1808.0"/>
<line class="t" x1="247.5" y1="1799.0" x2="247.5" y2="1813.0"/>
<line class="tm" x1="270.1" y1="1799.0" x2="270.1" y2="1808.0"/>
<line class="tm" x1="292.8" y1="1799.0" x2="292.8" y2="1808.0"/>
<line class="tm" x1="315.4" y1="1799.0" x2="315.4" y2="1808.0"/>
<line class="tm" x1="338.1" y1="1799.0" x2="338.1" y2="1808.0"/>
<line class="t" x1="360.7" y1="1799.0" x2="360.7" y2="1813.0"/>
<line class="tm" x1="383.3" y1="1799.0" x2="383.3" y2="1808.0"/>
<line class="tm" x1="406.0" y1="1799.0" x2="406.0" y2="1808.0"/>
<line class="tm" x1="428.6" y1="1799.0" x2="428.6" y2="1808.0"/>
<line class="tm" x1="451.3" y1="1799.0" x2="451.3" y2="1808.0"/>
<line class="t" x1="473.9" y1="1799.0" x2="473.9" y2="1813.0"/>
<line class="tm" x1="496.5" y1="1799.0" x2="496.5" y2="1808.0"/>
<line class="tm" x1="519.2" y1="1799.0" x2="519.2" y2="1808.0"/>
<line class="tm" x1="541.8" y1="1799.0" x2="541.8" y2="1808.0"/>
<line class="tm" x1="564.5" y1="1799.0" x2="564.5" y2="1808.0"/>
<line class="t" x1="587.1" y1="1799.0" x2="587.1" y2="1813.0"/>
<line class="tm" x1="609.7" y1="1799.0" x2="609.7" y2="1808.0"/>
<line class="tm" x1="632.4" y1="1799.0" x2="632.4" y2="1808.0"/>
<line class="tm" x1="655.0" y1="1799.0" x2="655.0" y2="1808.0"/>
<line class="tm" x1="677.7" y1="1799.0" x2="677.7" y2="1808.0"/>
<line class="t" x1="700.3" y1="1799.0" x2="700.3" y2="1813.0"/>
<line class="tm" x1="722.9" y1="1799.0" x2="722.9" y2="1808.0"/>
<line class="tm" x1="745.6" y1="1799.0" x2="745.6" y2="1808.0"/>
<line class="tm" x1="768.2" y1="1799.0" x2="768.2" y2="1808.0"/>
<line class="tm" x1="790.9" y1="1799.0" x2="790.9" y2="1808.0"/>
<line class="t" x1="813.5" y1="1799.0" x2="813.5" y2="1813.0"/>
<line class="tm" x1="836.1" y1="1799.0" x2="836.1" y2="1808.0"/>
<line class="tm" x1="858.8" y1="1799.0" x2="858.8" y2="1808.0"/>
<line class="tm" x1="881.4" y1="1799.0" x2="881.4" y2="1808.0"/>
<line class="tm" x1="904.1" y1="1799.0" x2="904.1" y2="1808.0"/>
<line class="t" x1="926.7" y1="1799.0" x2="926.7" y2="1813.0"/>
<line class="tm" x1="949.3" y1="1799.0" x2="949.3" y2="1808.0"/>
<line class="tm" x1="972.0" y1="1799.0" x2="972.0" y2="1808.0"/>
<line class="tm" x1="994.6" y1="1799.0" x2="994.6" y2="1808.0"/>
<line class="tm" x1="1017.3" y1="1799.0" x2="1017.3" y2="1808.0"/>
<line class="t" x1="1039.9" y1="1799.0" x2="1039.9" y2="1813.0"/>
<line class="tm" x1="1062.5" y1="1799.0" x2="1062.5" y2="1808.0"/>
<line class="tm" x1="1085.2" y1="1799.0" x2="1085.2" y2="1808.0"/>
<line class="tm" x1="1107.8" y1="1799.0" x2="1107.8" y2="1808.0"/>
<line class="tm" x1="1130.5" y1="1799.0" x2="1130.5" y2="1808.0"/>
<line class="t" x1="1153.1" y1="1799.0" x2="1153.1" y2="1813.0"/>
<line class="tm" x1="1175.7" y1="1799.0" x2="1175.7" y2="1808.0"/>
<line class="tm" x1="1198.4" y1="1799.0" x2="1198.4" y2="1808.0"/>
<line class="tm" x1="1221.0" y1="1799.0" x2="1221.0" y2="1808.0"/>
<line class="tm" x1="1243.7" y1="1799.0" x2="1243.7" y2="1808.0"/>
<line class="t" x1="1266.3" y1="1799.0" x2="1266.3" y2="1813.0"/>
<text class="tk" transform="translate(138.6,1856.5) scale(0.950,1)" text-anchor="middle">90</text>
<text class="tk" transform="translate(251.7,1856.5) scale(0.950,1)" text-anchor="middle">91</text>
<text class="tk" transform="translate(364.8,1856.5) scale(0.950,1)" text-anchor="middle">92</text>
<text class="tk" transform="translate(477.9,1856.5) scale(0.950,1)" text-anchor="middle">93</text>
<text class="tk" transform="translate(591.0,1856.5) scale(0.950,1)" text-anchor="middle">94</text>
<text class="tk" transform="translate(704.1,1856.5) scale(0.950,1)" text-anchor="middle">95</text>
<text class="tk" transform="translate(817.2,1856.5) scale(0.950,1)" text-anchor="middle">96</text>
<text class="tk" transform="translate(930.3,1856.5) scale(0.950,1)" text-anchor="middle">97</text>
<text class="tk" transform="translate(1043.4,1856.5) scale(0.950,1)" text-anchor="middle">98</text>
<text class="tk" transform="translate(1156.5,1856.5) scale(0.950,1)" text-anchor="middle">99</text>
<text class="tk" transform="translate(1273.5,1856.5) scale(0.950,1)" text-anchor="middle">100</text>
<text class="ttl" transform="translate(710.5,1906.5) scale(0.917,1)" text-anchor="middle" style="font-size:48px">Depth (meters)</text>
<text class="ttl" transform="translate(53.0,1639.5) scale(1.030,1) rotate(-90)" text-anchor="middle" style="font-size:42.3px">10<tspan font-size="27" dy="-29">5</tspan><tspan dy="29">/mL</tspan></text>
<text class="ttl" transform="translate(1393.5,1455.7) scale(1.030,1) rotate(-90)" text-anchor="middle" style="font-size:42.4px">per mil</text>
<text class="lab" transform="translate(277.0,1390.0) scale(0.950,1)" text-anchor="start" style="font-size:45px">d. <tspan class="gr" font-size="40">δ</tspan><tspan font-size="17" dy="-21" dx="2">18</tspan><tspan dy="21" dx="5">O</tspan></text>
<text class="lab" transform="translate(229.0,1589.0) scale(0.950,1)" text-anchor="start" style="font-size:45px">e. Dust</text>
<text class="lab" transform="translate(279.0,1640.0) scale(0.950,1)" text-anchor="start" style="font-size:45px">conc.</text>
<polyline class="c" points="135.5,1410.0 140.0,1412.5 141.2,1431.2 145.0,1435.0 146.2,1447.5 149.5,1450.0 150.5,1467.5 157.5,1471.2 158.8,1490.0 162.0,1491.2 163.0,1502.5 166.2,1502.5 167.8,1460.0 168.8,1460.0 170.0,1505.0 172.5,1510.0 175.0,1520.0 178.8,1525.0 180.0,1535.0 183.0,1532.5 183.8,1515.0 185.5,1495.0 190.0,1492.5 191.2,1485.0 193.8,1485.0 195.5,1495.0 197.5,1497.5 198.8,1520.0 203.0,1521.2 204.5,1507.5 207.0,1506.2 208.8,1495.0 212.5,1490.0 213.8,1465.0 217.5,1462.5 218.8,1452.5 225.0,1451.2 226.2,1430.0 228.8,1428.8 230.0,1412.5 235.0,1411.2 236.2,1432.5 238.0,1432.5 238.8,1371.2 241.2,1370.0 242.5,1377.5 245.5,1378.8 246.2,1415.0 248.8,1420.0 249.5,1445.0 252.0,1447.5 252.5,1465.0 254.5,1470.0 255.0,1495.0 257.5,1501.2 259.5,1495.0 260.5,1470.0 262.5,1430.0 266.2,1427.5 267.0,1402.5 271.2,1401.2 272.5,1410.0 274.5,1412.5 275.5,1430.0 278.8,1432.5 280.0,1445.0 282.5,1447.5 283.8,1470.0 285.5,1480.0 288.8,1480.0 290.0,1472.5 296.2,1470.0 298.8,1471.2 300.0,1435.0 302.5,1433.8 303.8,1440.0 307.5,1441.2 308.8,1451.2 312.5,1451.2 313.0,1440.0 316.2,1445.0 318.8,1436.2 322.5,1433.8 325.0,1435.0 327.5,1437.5 328.8,1457.5 331.2,1440.0 335.0,1433.8 338.8,1431.2 342.5,1430.0 344.5,1445.0 347.5,1447.5 348.8,1470.0 350.0,1492.5 353.8,1492.5 355.0,1485.0 358.8,1480.0 360.0,1467.5 365.0,1463.8 366.2,1535.0 371.2,1535.0 373.6,1442.5 374.6,1442.5 378.2,1527.5 379.2,1527.5 380.8,1440.0 383.8,1440.0 385.0,1460.0 392.0,1462.5 393.0,1470.0 395.0,1470.0 395.5,1442.5 400.5,1441.2 402.5,1452.5 406.2,1457.5 408.8,1470.0 411.2,1475.0 413.0,1492.5 415.5,1492.5 416.2,1467.5 419.5,1465.0 420.0,1480.0 423.8,1477.5 426.2,1455.0 427.5,1392.5 433.8,1391.2 435.0,1422.5 438.0,1426.2 439.5,1452.5 441.2,1497.5 444.5,1502.5 446.2,1512.5 448.8,1512.5 450.0,1480.0 452.5,1477.5 453.8,1452.5 460.0,1450.0 461.2,1432.5 463.8,1422.5 468.8,1422.5 470.0,1462.5 473.8,1465.0 475.0,1480.0 477.5,1520.0 480.0,1545.0 482.5,1550.0 483.8,1557.5 485.5,1567.5 488.0,1567.5 489.5,1555.0 492.5,1552.5 493.8,1525.0 496.2,1520.0 497.0,1485.0 499.5,1482.5 501.6,1457.5 502.6,1457.5 504.5,1497.5 510.0,1495.0 511.2,1475.0 513.8,1472.5 515.0,1445.0 518.8,1442.5 523.8,1447.5 525.0,1470.0 527.5,1475.0 528.8,1525.0 531.2,1540.0 534.5,1550.0 537.5,1552.5 541.2,1555.0 543.0,1540.0 545.0,1530.0 550.5,1527.5 552.0,1495.0 554.5,1495.0 555.5,1510.0 560.0,1515.0 561.2,1500.0 566.2,1502.5 570.0,1500.0 572.5,1515.0 576.2,1515.0 578.8,1505.0 582.5,1502.5 585.0,1485.0 587.0,1465.0 591.2,1462.5 593.0,1470.0 595.0,1457.5 600.0,1452.5 603.8,1447.5 604.5,1428.8 607.0,1428.8 608.0,1455.0 610.0,1450.0 615.0,1452.5 617.5,1465.0 620.0,1470.0 622.0,1495.0 625.0,1500.0 627.5,1506.2 630.0,1505.0 632.0,1495.0 634.5,1487.5 636.2,1467.5 640.0,1460.0 642.5,1452.5 645.0,1437.5 650.0,1436.2 654.5,1435.0 655.5,1415.0 662.0,1415.0 663.0,1452.5 665.0,1457.5 666.2,1477.5 670.4,1450.0 671.4,1450.0 673.8,1480.0 682.5,1480.0 683.0,1450.0 687.5,1451.2 690.0,1460.0 691.2,1477.5 695.0,1478.8 697.5,1475.0 698.8,1460.0 703.8,1458.8 706.2,1485.0 710.0,1482.5 711.2,1465.0 713.8,1470.0 718.8,1467.5 721.2,1460.0 723.8,1456.2 730.0,1457.5 731.2,1480.0 733.8,1480.0 734.5,1462.5 738.8,1463.8 741.2,1475.0 743.0,1500.0 745.0,1507.5 747.0,1527.5 750.0,1532.5 752.5,1515.0 755.0,1507.5 760.0,1505.0 761.2,1485.0 765.0,1477.5 766.2,1492.5 768.8,1491.2 770.0,1475.0 773.8,1473.8 776.2,1480.0 778.8,1472.5 785.0,1471.2 787.0,1480.0 788.8,1512.5 789.8,1512.5 791.2,1480.0 793.8,1477.5 796.2,1462.5 800.0,1455.0 803.8,1453.8 807.5,1462.5 808.8,1492.5 812.0,1492.5 813.0,1472.5 820.0,1470.0 821.2,1457.5 827.5,1452.5 832.5,1450.0 836.2,1452.5 838.0,1458.8 843.8,1456.2 848.8,1452.5 853.8,1455.0 856.2,1467.5 860.0,1470.0 866.2,1468.8 867.5,1437.5 872.5,1437.5 874.5,1445.0 878.8,1446.2 880.0,1458.8 885.0,1460.0 886.2,1437.5 890.0,1433.8 891.2,1441.2 892.5,1436.2 898.8,1436.2 900.0,1457.5 903.8,1460.0 906.2,1470.0 908.8,1475.0 910.0,1525.0 912.5,1528.8 913.8,1546.2 918.8,1546.2 919.5,1510.0 921.2,1485.0 923.8,1482.5 924.5,1452.5 927.5,1450.0 932.5,1451.2 933.8,1425.0 937.5,1425.0 938.8,1435.0 943.8,1437.5 945.0,1455.0 947.5,1456.2 948.0,1431.2 953.8,1431.2 955.0,1460.0 957.5,1462.5 959.5,1473.8 963.8,1475.0 966.2,1465.0 968.8,1462.5 970.0,1446.2 972.5,1445.0 973.8,1471.2 975.5,1445.0 977.0,1431.2 980.0,1431.2 981.2,1450.0 983.8,1450.0 985.0,1432.5 987.5,1431.2 988.0,1412.5 990.5,1412.5 992.0,1431.2 994.5,1435.0 995.5,1452.5 998.0,1457.5 999.5,1495.0 1002.5,1501.2 1005.0,1505.0 1006.2,1525.0 1008.8,1525.0 1010.0,1505.0 1012.0,1500.0 1013.0,1475.0 1015.5,1472.5 1018.6,1436.2 1019.6,1436.2 1022.0,1462.5 1025.0,1465.0 1025.5,1472.5 1027.5,1455.0 1031.2,1453.8 1032.5,1465.0 1035.0,1467.5 1036.2,1477.5 1038.8,1482.5 1040.0,1512.5 1043.8,1513.8 1046.2,1507.5 1048.8,1500.0 1051.2,1495.0 1053.8,1485.0 1057.0,1482.5 1058.8,1445.0 1062.0,1443.8 1063.0,1465.0 1065.5,1467.5 1067.5,1482.5 1070.0,1490.0 1072.5,1495.0 1073.8,1547.5 1077.5,1552.5 1081.2,1548.8 1085.0,1547.5 1087.0,1537.5 1090.0,1535.0 1092.0,1527.5 1095.0,1522.5 1100.0,1521.2 1103.8,1520.0 1107.5,1518.8 1108.8,1507.5 1111.2,1495.0 1113.8,1493.8 1115.0,1525.0 1118.0,1527.5 1119.5,1555.0 1124.5,1555.0 1125.5,1525.0 1127.4,1492.5 1128.4,1492.5 1130.0,1520.0 1135.0,1522.5 1137.5,1525.0 1139.5,1520.0 1142.5,1517.5 1145.0,1505.0 1147.5,1495.0 1149.9,1450.0 1150.9,1450.0 1153.0,1517.5 1156.2,1520.0 1157.0,1547.5 1160.0,1547.5 1160.0,1547.5 1161.2,1490.0 1163.8,1485.0 1165.0,1435.0 1167.5,1432.5 1168.8,1411.2 1176.2,1410.0 1177.5,1432.5 1180.5,1435.0 1182.0,1450.0 1184.5,1452.5 1185.8,1527.5 1186.8,1527.5 1188.0,1492.5 1190.5,1490.0 1192.0,1477.5 1196.2,1472.5 1198.8,1465.0 1202.5,1463.8 1206.2,1467.5 1208.8,1472.5 1211.2,1475.0 1212.5,1485.0 1214.5,1492.5 1217.0,1495.0 1220.0,1497.5 1222.5,1505.0 1225.0,1510.0 1228.8,1515.0 1232.5,1518.8 1234.5,1522.5 1237.0,1507.5 1238.8,1490.0 1240.5,1467.5 1243.0,1465.0 1243.8,1422.5 1247.5,1421.2 1250.0,1435.0 1251.2,1456.2 1255.5,1456.2 1256.5,1432.5 1259.5,1431.2 1262.5,1430.0 1265.5,1431.2"/>
<polyline class="c" points="135.5,1775.0 140.0,1773.8 148.8,1772.5 151.2,1770.0 152.8,1720.0 153.8,1720.0 155.0,1772.5 158.8,1770.0 160.0,1757.5 163.8,1755.0 165.0,1730.0 168.0,1725.0 169.5,1592.5 170.5,1592.5 172.5,1640.0 175.5,1645.0 176.2,1730.0 180.0,1735.0 181.2,1760.0 184.5,1765.0 185.5,1772.5 188.0,1772.5 189.5,1760.0 192.5,1755.0 193.8,1737.5 197.0,1737.5 198.0,1755.0 201.2,1760.0 203.8,1767.5 207.5,1766.2 209.5,1745.0 213.8,1742.5 215.0,1750.0 217.5,1735.0 220.0,1735.0 221.2,1755.0 226.2,1757.5 227.5,1767.5 231.2,1767.5 232.5,1710.0 235.0,1707.5 236.2,1692.5 240.0,1685.0 241.2,1680.0 242.4,1635.0 243.4,1635.0 244.5,1677.5 247.5,1682.5 248.8,1715.0 252.5,1720.0 253.8,1735.0 256.2,1740.0 257.0,1770.0 260.0,1770.0 260.5,1757.5 266.2,1757.5 267.0,1747.5 270.0,1745.0 272.0,1770.0 273.0,1770.0 275.2,1737.5 276.2,1737.5 278.0,1770.0 280.5,1772.5 282.5,1770.0 286.2,1765.0 288.0,1752.5 292.5,1750.0 293.8,1760.0 299.5,1760.0 301.2,1720.0 302.2,1720.0 303.8,1782.5 308.0,1782.5 308.8,1775.0 315.0,1772.5 316.2,1725.0 322.5,1725.0 323.0,1772.5 328.0,1775.0 330.0,1787.5 333.8,1788.8 336.2,1782.5 340.0,1782.5 342.0,1775.0 343.0,1745.0 346.2,1740.0 348.0,1745.0 350.0,1757.5 352.5,1760.0 357.5,1757.5 360.0,1765.0 365.0,1766.2 367.0,1777.5 370.0,1780.0 371.2,1785.0 377.5,1785.0 379.5,1775.0 381.2,1777.5 386.2,1776.2 387.5,1782.5 390.0,1790.0 391.2,1770.0 393.8,1760.0 395.0,1697.5 398.8,1692.5 400.8,1525.0 401.8,1525.0 403.8,1690.0 406.2,1695.0 407.0,1770.0 410.0,1772.5 412.5,1782.5 415.0,1777.5 417.0,1767.5 420.0,1765.0 421.2,1750.0 426.2,1747.5 428.8,1745.0 429.9,1712.5 430.9,1712.5 432.4,1760.0 433.4,1760.0 434.5,1711.2 438.0,1710.0 440.2,1525.0 441.2,1525.0 442.8,1705.0 443.8,1705.0 445.2,1525.0 446.2,1525.0 448.8,1710.0 450.5,1715.0 451.2,1735.0 453.8,1757.5 455.0,1737.5 457.0,1757.5 458.0,1782.5 461.2,1785.0 465.0,1782.5 468.8,1780.0 471.2,1765.0 475.0,1745.0 476.2,1710.0 480.0,1672.5 480.5,1705.0 482.0,1670.0 483.0,1670.0 484.5,1705.0 485.5,1735.0 488.8,1740.0 490.0,1765.0 492.5,1767.5 493.8,1780.0 497.5,1782.5 505.0,1778.8 507.5,1777.5 509.5,1757.5 512.5,1755.0 514.5,1735.0 516.6,1585.0 517.6,1585.0 520.0,1732.5 526.2,1730.0 528.2,1525.0 529.2,1525.0 531.2,1730.0 534.5,1735.0 535.5,1785.0 538.8,1790.0 543.8,1788.8 550.0,1782.5 552.5,1775.0 555.0,1757.5 557.4,1715.0 558.4,1715.0 560.5,1750.0 563.0,1755.0 564.5,1780.0 568.8,1787.5 575.0,1788.8 580.0,1785.0 585.0,1782.5 587.0,1775.0 589.1,1682.5 590.1,1682.5 592.0,1767.5 595.0,1772.5 600.0,1770.0 603.8,1765.0 607.0,1760.0 610.0,1758.8 611.2,1780.0 615.0,1780.0 616.2,1770.0 620.0,1770.0 621.2,1730.0 623.0,1550.0 624.0,1550.0 625.2,1755.0 626.2,1755.0 627.0,1550.0 628.0,1550.0 628.8,1755.0 631.2,1735.0 633.8,1727.5 635.2,1697.5 636.2,1697.5 638.0,1727.5 640.0,1770.0 642.5,1775.0 644.5,1782.5 647.5,1777.5 650.5,1772.5 652.0,1677.5 653.8,1527.5 654.8,1527.5 658.6,1672.5 659.6,1672.5 662.5,1637.5 664.5,1596.2 665.5,1596.2 667.5,1690.0 668.8,1717.5 670.2,1780.0 671.2,1780.0 672.4,1717.5 673.4,1717.5 675.0,1780.0 677.5,1765.0 681.2,1762.5 683.9,1792.5 684.9,1792.5 687.5,1755.0 690.0,1750.0 692.0,1737.5 695.0,1735.0 697.4,1757.5 698.4,1760.0 701.2,1725.0 702.2,1725.0 703.8,1757.5 706.2,1765.0 708.8,1780.0 711.2,1782.5 716.2,1783.8 718.8,1772.5 725.0,1770.0 728.8,1767.5 731.0,1737.5 732.0,1737.5 733.8,1782.5 738.8,1785.0 743.8,1783.8 747.5,1777.5 750.0,1760.0 751.2,1732.5 755.0,1727.5 757.0,1725.0 759.1,1675.0 760.1,1675.0 762.5,1735.0 765.0,1745.0 767.5,1747.5 768.8,1765.0 771.2,1772.5 773.8,1760.0 776.2,1757.5 778.0,1732.5 779.0,1732.5 781.2,1755.0 783.8,1760.0 785.0,1785.0 787.0,1785.0 788.0,1770.0 791.2,1767.5 793.8,1752.5 796.2,1740.0 801.2,1740.0 802.5,1757.5 806.2,1760.0 810.0,1763.8 815.0,1762.5 817.5,1747.5 820.0,1735.0 823.8,1740.0 825.0,1757.5 828.0,1760.0 830.0,1777.5 832.5,1782.5 835.0,1785.0 837.5,1782.5 840.0,1760.0 842.5,1760.0 843.8,1775.0 847.5,1780.0 852.5,1782.5 855.0,1777.5 856.2,1747.5 860.0,1745.0 861.0,1717.5 862.0,1717.5 863.8,1745.0 866.4,1782.5 867.4,1782.5 870.0,1735.0 874.5,1735.0 875.5,1747.5 877.5,1750.0 878.8,1785.0 882.5,1787.5 886.2,1782.5 888.8,1777.5 890.0,1765.0 893.0,1765.0 894.5,1777.5 898.8,1777.5 901.2,1770.0 905.0,1765.0 906.2,1747.5 909.5,1745.0 910.5,1680.0 913.8,1675.0 918.8,1671.2 920.8,1525.0 921.8,1525.0 923.8,1765.0 925.5,1782.5 930.0,1782.5 932.5,1770.0 935.0,1760.0 937.5,1757.5 938.8,1725.0 939.8,1725.0 943.6,1755.0 944.6,1757.5 947.8,1622.5 948.8,1622.5 950.5,1757.5 951.5,1757.5 953.2,1622.5 954.2,1622.5 955.5,1757.5 954.5,1770.0 957.5,1780.0 960.0,1785.0 965.0,1787.5 970.0,1786.2 972.5,1782.5 976.2,1780.0 978.0,1760.0 980.0,1747.5 982.5,1745.0 985.4,1527.5 986.4,1527.5 988.8,1757.5 991.2,1762.5 993.8,1745.0 997.5,1740.0 1000.5,1707.5 1001.5,1707.5 1003.8,1747.5 1006.4,1702.5 1007.4,1702.5 1009.5,1735.0 1012.5,1737.5 1013.8,1775.0 1016.2,1785.0 1018.8,1782.5 1021.2,1775.0 1026.2,1772.5 1030.0,1770.0 1033.8,1760.0 1036.2,1740.0 1038.8,1735.0 1039.5,1710.0 1045.0,1710.0 1046.2,1782.5 1050.0,1790.0 1053.8,1791.2 1057.5,1785.0 1060.0,1775.0 1063.2,1737.5 1064.2,1737.5 1066.2,1772.5 1068.8,1745.0 1071.2,1742.5 1073.5,1717.5 1074.5,1717.5 1077.0,1750.0 1079.5,1755.0 1081.2,1787.5 1085.0,1788.8 1092.5,1787.5 1096.2,1777.5 1098.8,1782.5 1103.8,1782.5 1108.8,1777.5 1113.8,1775.0 1116.2,1760.0 1120.0,1757.5 1122.0,1707.5 1126.2,1702.5 1130.0,1705.0 1132.0,1745.0 1135.0,1750.0 1136.2,1765.0 1139.5,1765.0 1140.5,1740.0 1143.8,1735.0 1147.5,1735.0 1150.0,1745.0 1153.6,1770.0 1154.6,1770.0 1157.5,1710.0 1160.0,1670.0 1160.0,1735.0 1162.0,1670.0 1163.0,1670.0 1165.0,1735.0 1166.2,1765.0 1170.0,1765.0 1173.8,1760.0 1177.5,1760.0 1178.8,1737.5 1182.5,1735.0 1184.9,1702.5 1185.9,1702.5 1188.0,1740.0 1190.0,1745.0 1191.2,1785.0 1194.5,1785.0 1195.5,1777.5 1198.8,1775.0 1201.2,1745.0 1203.8,1740.0 1208.8,1737.5 1211.0,1707.5 1212.0,1707.5 1213.8,1745.0 1217.5,1747.5 1220.0,1750.0 1221.6,1527.5 1222.6,1527.5 1223.5,1747.5 1224.5,1747.5 1225.1,1527.5 1226.1,1527.5 1227.0,1757.5 1228.8,1762.5 1229.5,1782.5 1233.8,1783.8 1237.5,1780.0 1241.2,1785.0 1243.8,1777.5 1247.5,1772.5 1250.0,1770.0 1252.0,1740.0 1253.8,1735.0 1255.5,1737.5 1257.0,1755.0 1260.0,1760.0 1262.5,1770.0 1265.5,1777.5"/>
<text class="yg" transform="translate(178.0,1589.5) scale(1.070,1) rotate(-90)" text-anchor="start">1675</text>
<text class="yg" transform="translate(440.5,1597.0) scale(1.070,1) rotate(-90)" text-anchor="start">1665</text>
<text class="yg" transform="translate(772.5,1602.0) scale(1.070,1) rotate(-90)" text-anchor="start">1655</text>
<text class="yg" transform="translate(961.8,1597.0) scale(1.070,1) rotate(-90)" text-anchor="start">1645</text>
<text class="yg" transform="translate(1221.8,1597.0) scale(1.070,1) rotate(-90)" text-anchor="start">1635</text>
</g></svg></body></html>
